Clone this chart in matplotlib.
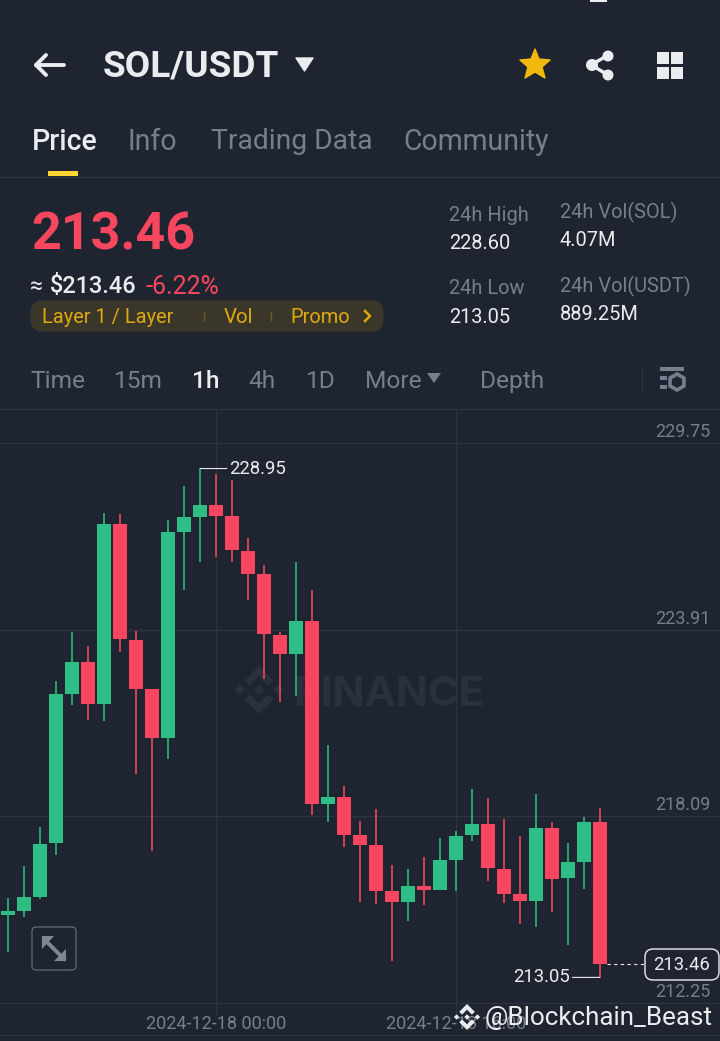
import matplotlib
matplotlib.use("Agg")
import matplotlib.pyplot as plt
from matplotlib.patches import FancyBboxPatch, Polygon, Rectangle, Circle, RegularPolygon

# candle values
opens = [215.00, 215.11, 215.57, 217.24, 221.91, 222.90, 221.60, 227.22, 223.59, 222.07,
         220.54, 226.98, 227.42, 227.82, 227.46, 226.38, 225.66, 223.76, 223.17, 224.18,
         218.48, 218.70, 217.49, 217.18, 215.74, 215.40, 215.92, 215.79, 216.73, 217.49,
         217.84, 216.45, 215.67, 215.43, 217.72, 216.15, 216.66, 217.90]
closes = [215.11, 215.56, 217.22, 221.91, 222.90, 221.59, 227.22, 223.62, 222.07, 220.54,
          226.96, 227.43, 227.82, 227.46, 226.41, 225.67, 223.77, 223.16, 224.18, 218.47,
          218.70, 217.50, 217.19, 215.75, 215.42, 215.90, 215.78, 216.72, 217.46, 217.84,
          216.46, 215.67, 215.43, 217.72, 216.13, 216.65, 217.90, 213.46]
highs = [215.54, 216.53, 217.75, 222.32, 223.84, 223.41, 227.55, 227.52, 223.87, 222.07,
         227.33, 228.41, 228.95, 228.78, 228.60, 226.77, 225.95, 223.84, 226.04, 225.16,
         220.30, 219.02, 217.95, 218.30, 216.55, 216.45, 216.81, 217.42, 217.63, 218.93,
         218.65, 217.99, 217.48, 218.77, 217.90, 217.25, 218.05, 218.33]
lows = [213.84, 214.95, 215.50, 216.88, 221.57, 221.09, 221.07, 223.22, 219.41, 217.01,
        219.87, 225.16, 226.04, 226.19, 226.02, 224.84, 222.37, 221.66, 221.85, 218.11,
        217.91, 217.13, 215.42, 215.35, 213.55, 214.80, 215.31, 215.78, 215.75, 217.31,
        216.07, 215.38, 214.73, 214.63, 215.10, 214.06, 215.81, 213.05]

price_ticks = [229.75, 223.91, 218.09, 212.25]
time_ticks = [13, 28]
time_labels = ["2024-12-18 00:00", "2024-12-18 16:00"]
hi_idx, hi_val = 12, 228.95
lo_idx, lo_val = 37, 213.05
last_price = 213.46

BG = "#1e2530"
GRID = "#2c3341"
GREEN = "#2ebd85"
RED = "#f9465f"
GRAY = "#767f8e"
WHITE = "#eaecef"
YELLOW = "#fcd535"
TAG = "#dfa90e"
WM = "#2a303c"

W, H = 720, 1041
plt.rcParams["font.family"] = ["Roboto", "DejaVu Sans"]
fig = plt.figure(figsize=(W / 100, H / 100), dpi=100, facecolor=BG)


def fs(px):
    return px * 0.72


# chart area, pixels 409..1035
ax = fig.add_axes([0, 1 - 1035 / H, 1, (1035 - 409) / H], facecolor=BG)
ax.set_xlim(-0.5, 44.5)
ax.set_ylim(211.25, 230.81)
for s in ax.spines.values():
    s.set_visible(False)
ax.set_xticks([])
ax.set_yticks([])

# overlay for the app chrome, in screen pixels
ui = fig.add_axes([0, 0, 1, 1], facecolor="none")
ui.set_xlim(0, W)
ui.set_ylim(H, 0)
ui.axis("off")

for t in price_ticks:
    ax.axhline(t, color=GRID, lw=1, zorder=1)
    ax.annotate(f"{t:.2f}", xy=(1, t), xycoords=("axes fraction", "data"), xytext=(-7, 1.5),
                textcoords="offset points", ha="right", va="bottom", color=GRAY, fontsize=fs(18))
for i, lab in zip(time_ticks, time_labels):
    ax.plot([i, i], [211.88, 230.81], color=GRID, lw=1, zorder=1)
    ax.annotate(lab, xy=(i, 0), xycoords=("data", "axes fraction"), xytext=(0, 7.7),
                textcoords="offset points", ha="center", va="center", color=GRAY, fontsize=fs(18))

# watermark
ax.text(17.8, 221.88, "BINANCE", color=WM, fontsize=fs(42), fontweight="bold",
        va="center", ha="left", family="Inter", zorder=1)

idx = list(range(len(opens)))
colors = [GREEN if c >= o else RED for o, c in zip(opens, closes)]
ax.vlines(idx, lows, highs, colors=colors, lw=1.15, zorder=3)
ax.bar(idx, [abs(c - o) for o, c in zip(opens, closes)], bottom=[min(o, c) for o, c in zip(opens, closes)],
       width=0.86, color=colors, zorder=4)

# high / low / last markers
ax.annotate(f"{hi_val:.2f}", xy=(hi_idx, hi_val), xytext=(hi_idx + 1.85, hi_val), color=WHITE, fontsize=fs(18.5),
            va="center", ha="left", arrowprops=dict(arrowstyle="-", color=WHITE, lw=0.8, shrinkA=0, shrinkB=0), zorder=5)
ax.annotate(f"{lo_val:.2f}", xy=(lo_idx, lo_val), xytext=(lo_idx - 1.9, lo_val), color=WHITE, fontsize=fs(18.5),
            va="center", ha="right", arrowprops=dict(arrowstyle="-", color=WHITE, lw=0.8, shrinkA=0, shrinkB=0), zorder=5)
ax.plot([lo_idx + 0.45, 39.8], [last_price, last_price], color=WHITE, lw=0.8, ls=(0, (3, 3)), zorder=5)


def label(x, y, s, px, color=GRAY, ha="left", **kw):
    ui.text(x, y + 1.5, s, fontsize=fs(px), color=color, ha=ha, va="center", **kw)


def logo(target, cx, cy, r, color, z):
    # five-part diamond mark
    tr = ui.transData

    def diamond(x, y, d):
        target.add_patch(Polygon([(x, y - d), (x + d, y), (x, y + d), (x - d, y)], color=color, lw=0,
                                 zorder=z, transform=tr))
    diamond(cx, cy, r * 0.21)
    diamond(cx - r * 0.8, cy, r * 0.21)
    diamond(cx + r * 0.8, cy, r * 0.21)
    for sgn in (-1, 1):
        target.add_patch(Polygon([(cx, cy + sgn * r), (cx + r * 0.6, cy + sgn * r * 0.4),
                                  (cx + r * 0.38, cy + sgn * r * 0.18), (cx, cy + sgn * r * 0.56),
                                  (cx - r * 0.38, cy + sgn * r * 0.18), (cx - r * 0.6, cy + sgn * r * 0.4)],
                                 color=color, lw=0, zorder=z, transform=tr))


logo(ax, 259, 690, 24, WM, 1)

ui.add_patch(Rectangle((590, 0), 17, 2, color=WHITE, lw=0))

# top bar
ui.plot([36, 64], [65, 65], color=WHITE, lw=2.8, solid_capstyle="round")
ui.plot([46, 36, 46], [55, 65, 75], color=WHITE, lw=2.8, solid_capstyle="round", solid_joinstyle="round")
label(103, 65, "SOL/USDT", 37, WHITE, fontweight="bold")
ui.add_patch(Polygon([(296, 58), (313, 58), (304.5, 71)], color=WHITE, lw=1, joinstyle="round"))
star = [(535, 49), (539, 59), (550, 60), (542, 67), (545, 78), (535, 72), (525, 78), (528, 67), (520, 60), (531, 59)]
ui.add_patch(Polygon(star, color="#f0b90b", lw=1, joinstyle="round"))
ui.plot([610, 591, 610], [54, 65, 76], color=WHITE, lw=2.5)
for x, y, r in [(608, 56, 5.5), (592, 65, 6), (608, 75, 5.5)]:
    ui.add_patch(Circle((x, y), r, color=WHITE, lw=0))
for x in (657, 671):
    for y in (52, 67):
        ui.add_patch(Rectangle((x, y), 12, 12, color=WHITE, lw=0))

# tabs
label(32, 140, "Price", 28.5, WHITE, fontweight="medium")
label(127, 140, "Info", 28.5)
label(211, 140, "Trading Data", 28.2)
label(403, 140, "Community", 28.5)
ui.add_patch(Rectangle((48, 171), 30, 5, color=YELLOW, lw=0))
ui.plot([0, W], [177, 177], color=GRID, lw=1)

# price block
label(31, 234, "213.46", 52, RED, fontweight="bold")
label(30, 285, "≈", 23, WHITE)
label(50, 285, "$213.46", 23.5, WHITE, fontweight="medium")
label(146, 285, "-6.22%", 25, RED)
ui.add_patch(FancyBboxPatch((36, 306), 342, 20, boxstyle="round,pad=0,rounding_size=6", mutation_aspect=1,
                            fc="#3a3629", ec="#3a3629", lw=8))
label(42, 316, "Layer 1 / Layer", 20, TAG)
label(224, 316, "Vol", 20.5, TAG)
label(290, 316, "Promo", 20, TAG)
ui.plot([365, 370, 365], [311, 316, 321], color=TAG, lw=1.8)
for x in (204, 271):
    ui.plot([x, x], [312, 320], color="#6a5d2a", lw=1)

label(449, 214, "24h High", 20)
label(449, 242, "228.60", 20, WHITE)
label(449, 287, "24h Low", 20)
label(449, 316, "213.05", 20, WHITE)
label(560, 211, "24h Vol(SOL)", 20)
label(560, 239, "4.07M", 20, WHITE)
label(560, 285, "24h Vol(USDT)", 20)
label(560, 313, "889.25M", 20, WHITE)

# interval row
label(30, 380, "Time", 24.5)
label(114, 380, "15m", 24.5)
label(192, 380, "1h", 24.5, WHITE, fontweight="medium")
label(248, 380, "4h", 24.5)
label(306, 380, "1D", 24.5)
label(365, 380, "More", 24.5)
ui.add_patch(Polygon([(427, 373), (441, 373), (434, 383)], color=GRAY, lw=0))
label(480, 380, "Depth", 24.5)
ui.plot([642, 642], [366, 391], color=GRID, lw=1)
ui.add_patch(Rectangle((660, 367), 24, 4, color=GRAY, lw=0))
ui.add_patch(Rectangle((660, 376), 7, 4, color=GRAY, lw=0))
ui.add_patch(Rectangle((660, 385), 7, 4, color=GRAY, lw=0))
ui.add_patch(RegularPolygon((677, 382), 6, radius=8, fc="none", ec=GRAY, lw=2.6))
ui.plot([0, W], [409, 409], color=GRID, lw=1)

# expand button
ui.add_patch(FancyBboxPatch((32, 927), 44, 43, boxstyle="round,pad=0,rounding_size=4", fc=BG, ec="#6b7280", lw=0.8))
ui.plot([44, 64], [939, 959], color="#7f8794", lw=2.8)
ui.add_patch(Polygon([(42, 936), (54, 936), (42, 949)], color="#7f8794", lw=0))
ui.add_patch(Polygon([(66, 961), (54, 961), (66, 949)], color="#7f8794", lw=0))

# last price box
ui.add_patch(FancyBboxPatch((645, 949), 74, 31, boxstyle="round,pad=0,rounding_size=8", fc=BG, ec=WHITE, lw=1, zorder=5))
label(682, 964, "213.46", 18.5, WHITE, ha="center", zorder=6)

# screenshot watermark
logo(ui, 467, 1017, 13, WHITE, 6)
label(485, 1017, "@Blockchain_Beast", 26, WHITE, zorder=6)
ui.plot([0, W], [1035, 1035], color=GRID, lw=1)

fig.savefig("out.png", dpi=100, facecolor=BG)
plt.close(fig)
